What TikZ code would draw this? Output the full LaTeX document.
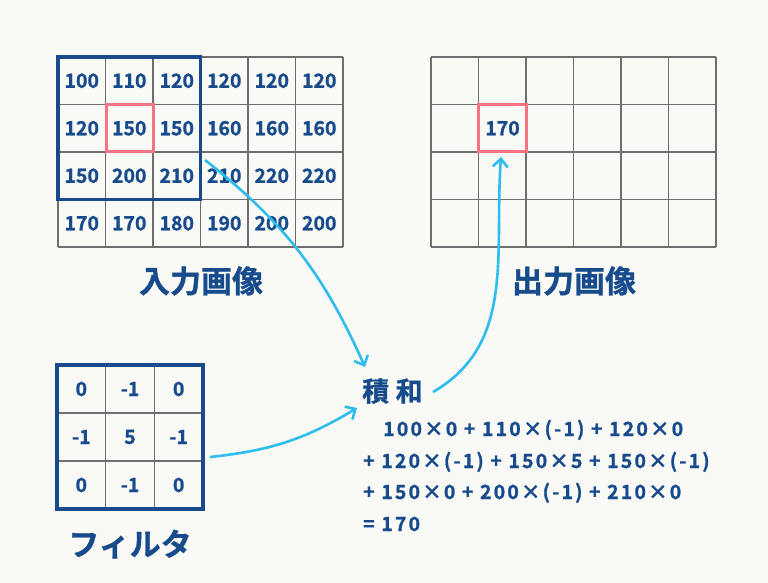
\documentclass[tikz,border=0pt]{standalone}
\usepackage{fontspec}
\usetikzlibrary{arrows.meta}
\newfontfamily\jp{Noto Sans CJK JP}[UprightFont=* Bold, FakeBold=1]
\newfontfamily\jpw{Noto Sans CJK JP}[UprightFont=* Bold, FakeBold=1, LetterSpace=11]
\newfontfamily\jpt{Noto Sans CJK JP}[UprightFont=* Bold, FakeBold=1, LetterSpace=24]
\definecolor{navy}{HTML}{174B8C}
\definecolor{pinkc}{HTML}{F47484}
\definecolor{gridc}{HTML}{6E6E6E}
\definecolor{cyanc}{HTML}{2EBDEC}
\definecolor{bgc}{HTML}{F9F9F6}
\begin{document}
\begin{tikzpicture}[x=1pt,y=-1pt]
\tikzset{
 cellnum/.style={font=\jp\fontsize{19.5}{20}\selectfont, text=navy, inner sep=0},
 title/.style={font=\jp\fontsize{31}{32}\selectfont, text=navy, inner sep=0},
 gridln/.style={draw=gridc, line width=1.4pt},
 framebox/.style={draw=navy, line width=3.5pt},
 hilite/.style={draw=pinkc, line width=3pt},
 flow/.style={draw=cyanc, line width=2.6pt, -{Straight Barb[length=8pt,width=15pt]}},
 formula/.style={font=\jpw\fontsize{19.5}{20}\selectfont, text=navy, inner sep=0, anchor=base west},
}
\fill[bgc] (0,0) rectangle (768,583);
\useasboundingbox (0,0) rectangle (768,583);

% input grid
\foreach \i in {0,...,6} \draw[gridln] ({58+47.5*\i},57) -- ({58+47.5*\i},247);
\foreach \j in {0,...,4} \draw[gridln] (58,{57+47.5*\j}) -- (343,{57+47.5*\j});
\foreach \vals [count=\r from 0] in {{100,110,120,120,120,120},{120,150,150,160,160,160},{150,200,210,210,220,220},{170,170,180,190,200,200}}{
  \foreach \v [count=\c from 0] in \vals {
    \node[cellnum] (in-\r-\c) at ({58+47.5*\c+23.75},{57+47.5*\r+23.75}) {\v};
  }
}
\draw[framebox] (58,57) rectangle (200.5,199.5);
\draw[hilite] (106,104.5) rectangle (153.5,151.5);
\node[title] (inlabel) at (201,281) {入力画像};

% output grid
\foreach \i in {0,...,6} \draw[gridln] ({431+47.5*\i},57) -- ({431+47.5*\i},247);
\foreach \j in {0,...,4} \draw[gridln] (431,{57+47.5*\j}) -- (716,{57+47.5*\j});
\draw[hilite] (478.5,104.5) rectangle (526.5,151.5);
\node[cellnum] (out-1-1) at (502.5,128.25) {170};
\node[title] (outlabel) at (574,281) {出力画像};

% filter
\foreach \i in {1,2} \draw[gridln] ({57+48.67*\i},365) -- ({57+48.67*\i},509);
\foreach \j in {1,2} \draw[gridln] (57,{365+48*\j}) -- (203,{365+48*\j});
\draw[framebox] (57,365) rectangle (203,509);
\foreach \vals [count=\r from 0] in {{0,-1,0},{-1,5,-1},{0,-1,0}}{
  \foreach \v [count=\c from 0] in \vals {
    \node[cellnum] (f-\r-\c) at ({57+48.67*\c+24.33},{365+48*\r+24}) {\v};
  }
}
\node[title] (filterlabel) at (130,544) {フィルタ};

% product-sum
\node[font=\jpt\fontsize{27}{28}\selectfont, text=navy, inner sep=0, anchor=west] (seki) at (362,391) {積和};
\node[formula] (f1) at (383,436) {100×0 + 110×(-1) + 120×0};
\node[formula] (f2) at (363,468) {+ 120×(-1) + 150×5 + 150×(-1)};
\node[formula] (f3) at (363,499) {+ 150×0 + 200×(-1) + 210×0};
\node[formula] (f4) at (363,531) {= 170};

% arrows
\coordinate (a1s) at (205,160);
\coordinate (a1e) at (365,367);
\coordinate (a2s) at (210,457);
\coordinate (a2e) at (357,408);
\coordinate (a3s) at (433,392);
\coordinate (a3e) at (501,157);
\draw[flow] (a1s) .. controls +(80,63) and +(-41.5,-93) .. (a1e);
\draw[flow] (a2s) .. controls +(60.6,-6.4) and +(-52.3,31.4) .. (a2e);
\draw[flow] (a3s) .. controls +(83,-48) and +(-7,96) .. (a3e);
\end{tikzpicture}
\end{document}
